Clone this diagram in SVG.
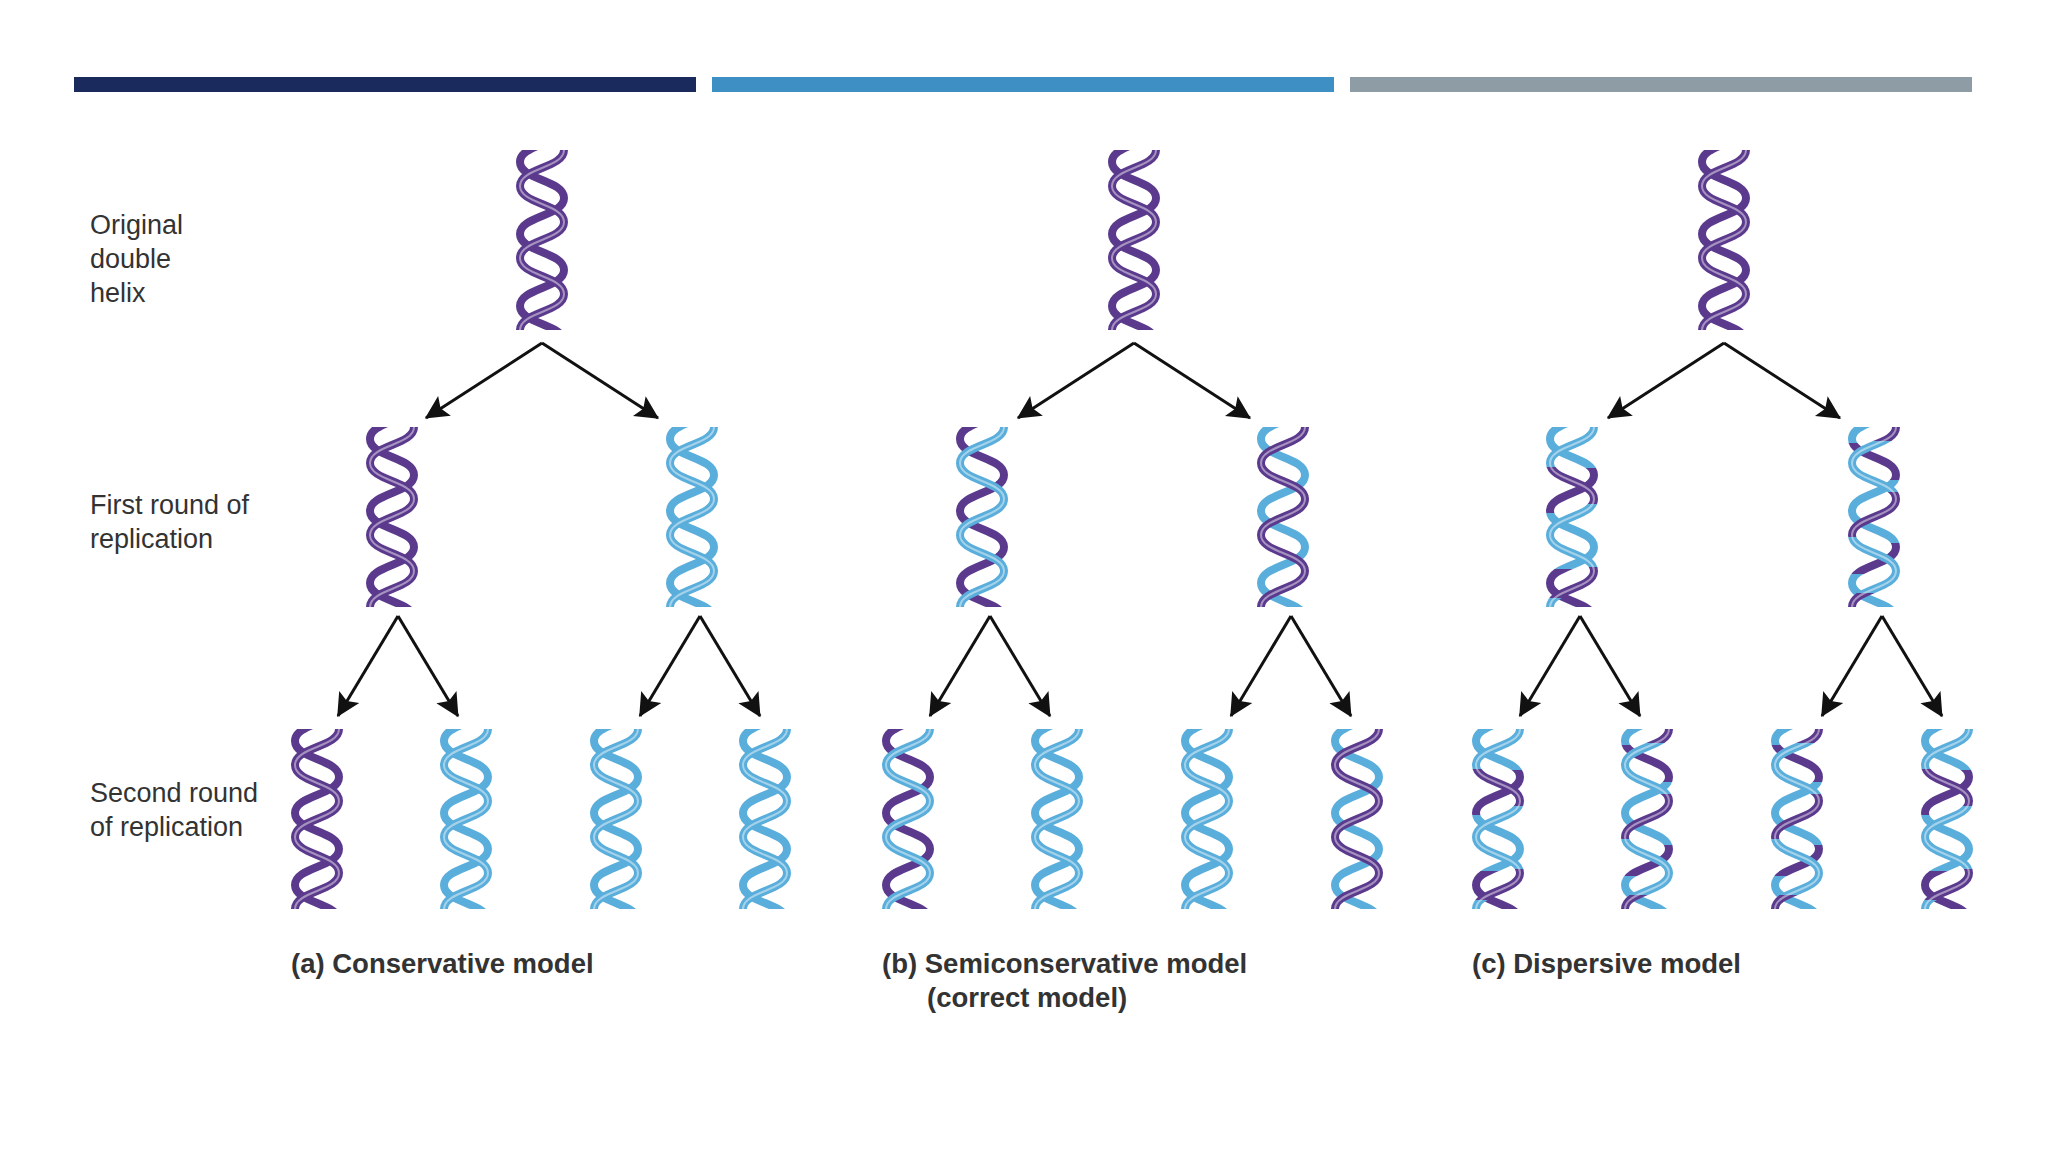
<svg xmlns="http://www.w3.org/2000/svg" xmlns:xlink="http://www.w3.org/1999/xlink" width="2048" height="1152" viewBox="0 0 2048 1152">
<style>
.lbl{font-family:"Liberation Sans",Arial,sans-serif;font-size:27px;fill:#333}
.cap{font-family:"Liberation Sans",Arial,sans-serif;font-size:27.5px;font-weight:bold;fill:#333}
.p{stroke:#5b3a8e;stroke-width:8;fill:none}
.b{stroke:#5aaedb;stroke-width:8;fill:none}
.m1{stroke:url(#g1);stroke-width:8;fill:none}
.m2{stroke:url(#g2);stroke-width:8;fill:none}
.hl{stroke:#fff;stroke-opacity:0.45;stroke-width:2;fill:none}
.arr{stroke:#111;stroke-width:3;fill:none;marker-end:url(#ah)}
</style>
<defs>
<marker id="ah" viewBox="0 0 10 10" refX="9" refY="5" markerWidth="9" markerHeight="9" orient="auto" markerUnits="userSpaceOnUse" overflow="visible">
<path d="M0,0 L10,5 L0,10 L2,5 z" fill="#111" transform="scale(2.6) translate(-6,-3)"/>
</marker>
<clipPath id="hc"><rect x="-30" y="0" width="60" height="180"/></clipPath>
<linearGradient id="g1" x1="0" y1="0" x2="0" y2="1">
<stop offset="0" stop-color="#5aaedb"/><stop offset="0.3" stop-color="#5aaedb"/><stop offset="0.3" stop-color="#5b3a8e"/><stop offset="0.45" stop-color="#5b3a8e"/><stop offset="0.45" stop-color="#5aaedb"/><stop offset="0.7" stop-color="#5aaedb"/><stop offset="0.7" stop-color="#5b3a8e"/><stop offset="0.82" stop-color="#5b3a8e"/><stop offset="0.82" stop-color="#5aaedb"/><stop offset="1" stop-color="#5aaedb"/>
</linearGradient>
<linearGradient id="g2" x1="0" y1="0" x2="0" y2="1">
<stop offset="0" stop-color="#5b3a8e"/><stop offset="0.2" stop-color="#5b3a8e"/><stop offset="0.2" stop-color="#5aaedb"/><stop offset="0.4" stop-color="#5aaedb"/><stop offset="0.4" stop-color="#5b3a8e"/><stop offset="0.58" stop-color="#5b3a8e"/><stop offset="0.58" stop-color="#5aaedb"/><stop offset="0.8" stop-color="#5aaedb"/><stop offset="0.8" stop-color="#5b3a8e"/><stop offset="1" stop-color="#5b3a8e"/>
</linearGradient>
<path id="s1" d="M-22,-36 C-22,-18 22,-18 22,0 C22,18 -22,18 -22,36 C-22,54 22,54 22,72 C22,90 -22,90 -22,108 C-22,126 22,126 22,144 C22,162 -22,162 -22,180 C-22,198 22,198 22,216"/>
<path id="s2" d="M-22,-36 C-22,-18 22,-18 22,0 C22,18 -22,18 -22,36 C-22,54 22,54 22,72 C22,90 -22,90 -22,108 C-22,126 22,126 22,144 C22,162 -22,162 -22,180 C-22,198 22,198 22,216" transform="translate(0,-24)"/>
<g id="hPP" clip-path="url(#hc)"><use xlink:href="#s2" class="p"/><use xlink:href="#s1" class="p"/><use xlink:href="#s1" class="hl"/></g>
<g id="hBB" clip-path="url(#hc)"><use xlink:href="#s2" class="b"/><use xlink:href="#s1" class="b"/><use xlink:href="#s1" class="hl"/></g>
<g id="hPB" clip-path="url(#hc)"><use xlink:href="#s2" class="b"/><use xlink:href="#s1" class="p"/><use xlink:href="#s1" class="hl"/></g>
<g id="hBP" clip-path="url(#hc)"><use xlink:href="#s2" class="p"/><use xlink:href="#s1" class="b"/><use xlink:href="#s1" class="hl"/></g>
<g id="hM1" clip-path="url(#hc)"><use xlink:href="#s2" class="m2"/><use xlink:href="#s1" class="m1"/><use xlink:href="#s1" class="hl"/></g>
<g id="hM2" clip-path="url(#hc)"><use xlink:href="#s2" class="m1"/><use xlink:href="#s1" class="m2"/><use xlink:href="#s1" class="hl"/></g>
</defs>
<rect width="2048" height="1152" fill="#fff"/>
<rect x="74" y="77" width="622" height="15" fill="#1b2a5c"/>
<rect x="712" y="77" width="622" height="15" fill="#3e8fc4"/>
<rect x="1350" y="77" width="622" height="15" fill="#8e9ca6"/>
<g id="labels">
<text class="lbl" x="90" y="234">Original</text>
<text class="lbl" x="90" y="268">double</text>
<text class="lbl" x="90" y="302">helix</text>
<text class="lbl" x="90" y="514">First round of</text>
<text class="lbl" x="90" y="548">replication</text>
<text class="lbl" x="90" y="802">Second round</text>
<text class="lbl" x="90" y="836">of replication</text>
<text class="cap" x="291" y="973">(a) Conservative model</text>
<text class="cap" x="882" y="973">(b) Semiconservative model</text>
<text class="cap" x="927" y="1007">(correct model)</text>
<text class="cap" x="1472" y="973">(c) Dispersive model</text>
</g>
<g id="n-a0"><use xlink:href="#hPP" x="542" y="150"/></g>
<g id="n-a1"><use xlink:href="#hPP" x="392" y="427"/></g>
<g id="n-a2"><use xlink:href="#hBB" x="692" y="427"/></g>
<g id="n-a3"><use xlink:href="#hPP" x="317" y="729"/></g>
<g id="n-a4"><use xlink:href="#hBB" x="466" y="729"/></g>
<g id="n-a5"><use xlink:href="#hBB" x="616" y="729"/></g>
<g id="n-a6"><use xlink:href="#hBB" x="765" y="729"/></g>
<g id="n-b0"><use xlink:href="#hPP" x="1134" y="150"/></g>
<g id="n-b1"><use xlink:href="#hBP" x="982" y="427"/></g>
<g id="n-b2"><use xlink:href="#hPB" x="1283" y="427"/></g>
<g id="n-b3"><use xlink:href="#hBP" x="908" y="729"/></g>
<g id="n-b4"><use xlink:href="#hBB" x="1057" y="729"/></g>
<g id="n-b5"><use xlink:href="#hBB" x="1207" y="729"/></g>
<g id="n-b6"><use xlink:href="#hPB" x="1357" y="729"/></g>
<g id="n-c0"><use xlink:href="#hPP" x="1724" y="150"/></g>
<g id="n-c1"><use xlink:href="#hM1" x="1572" y="427"/></g>
<g id="n-c2"><use xlink:href="#hM2" x="1874" y="427"/></g>
<g id="n-c3"><use xlink:href="#hM1" x="1498" y="729"/></g>
<g id="n-c4"><use xlink:href="#hM2" x="1647" y="729"/></g>
<g id="n-c5"><use xlink:href="#hM2" x="1797" y="729"/></g>
<g id="n-c6"><use xlink:href="#hM1" x="1947" y="729"/></g>
<g id="connectors">
<path class="arr" d="M542,343 L426,418"/><path class="arr" d="M542,343 L658,418"/>
<path class="arr" d="M1134,343 L1018,418"/><path class="arr" d="M1134,343 L1250,418"/>
<path class="arr" d="M1724,343 L1608,418"/><path class="arr" d="M1724,343 L1840,418"/>
<path class="arr" d="M398,616 L338,716"/><path class="arr" d="M398,616 L458,716"/>
<path class="arr" d="M700,616 L640,716"/><path class="arr" d="M700,616 L760,716"/>
<path class="arr" d="M990,616 L930,716"/><path class="arr" d="M990,616 L1050,716"/>
<path class="arr" d="M1291,616 L1231,716"/><path class="arr" d="M1291,616 L1351,716"/>
<path class="arr" d="M1580,616 L1520,716"/><path class="arr" d="M1580,616 L1640,716"/>
<path class="arr" d="M1882,616 L1822,716"/><path class="arr" d="M1882,616 L1942,716"/>
</g>
</svg>
